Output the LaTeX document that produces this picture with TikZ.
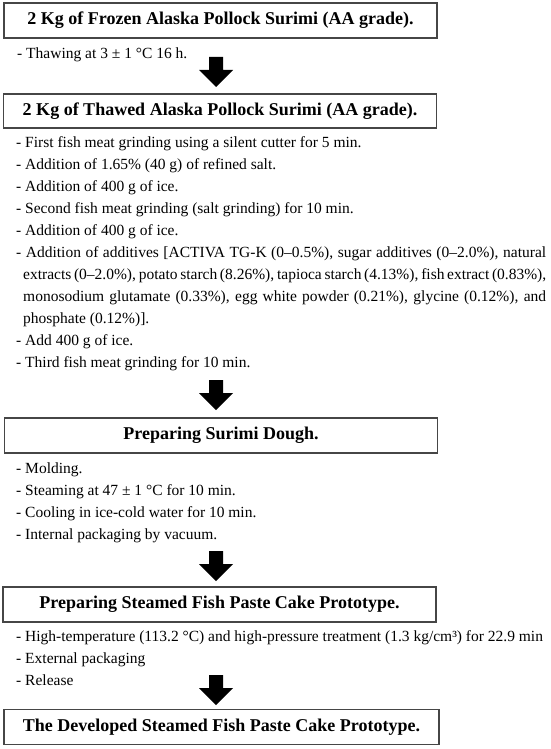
\documentclass[tikz,border=0pt]{standalone}
\usepackage{fontspec}
\setmainfont{Liberation Serif}
\definecolor{boxline}{RGB}{70,70,70}
\tikzset{
  titlebox/.style={draw=boxline, line width=1.1pt, minimum width=433pt, minimum height=35pt,
    inner sep=0pt, font=\fontsize{18}{20}\selectfont\bfseries},
  listtext/.style={anchor=north west, inner sep=0pt, text width=530pt, align=justify,
    font=\fontsize{15.5}{22}\selectfont},
  pics/downarrow/.style={code={
    \fill[black] (-7,0) -- (7,0) -- (7,13) -- (17,13) -- (0,30) -- (-17,13) -- (-7,13) -- cycle;}}
}
\begin{document}
\begin{tikzpicture}[x=1pt,y=-1pt]
\useasboundingbox (0,0) rectangle (550,749);
% title boxes
\node[titlebox] (b1) at (220.5,20.5) {2 Kg of Frozen Alaska Pollock Surimi (AA grade).};
\node[titlebox, minimum height=34pt] (b2) at (220,111) {2 Kg of Thawed Alaska Pollock Surimi (AA grade).};
\node[titlebox] (b3) at (221,435.5) {Preparing Surimi Dough.};
\node[titlebox] (b4) at (219.5,604.5) {Preparing Steamed Fish Paste Cake Prototype.};
\node[titlebox, minimum width=435pt] (b5) at (221.5,727) {The Developed Steamed Fish Paste Cake Prototype.};
% step lists
\node[listtext] (t1) at (17,42.6) {\strut- Thawing at 3 ± 1 °C 16 h.};
\node[listtext] (t2) at (16,132) {\strut- First fish meat grinding using a silent cutter for 5 min.\par
- Addition of 1.65\% (40 g) of refined salt.\par
- Addition of 400 g of ice.\par
- Second fish meat grinding (salt grinding) for 10 min.\par
- Addition of 400 g of ice.\par
\hangindent=7pt\hangafter=1 - Addition of additives [ACTIVA TG-K (0–0.5\%), sugar additives (0–2.0\%), natural\linebreak
extracts (0–2.0\%), potato starch (8.26\%), tapioca starch (4.13\%), fish extract (0.83\%),\linebreak
monosodium glutamate (0.33\%), egg white powder (0.21\%), glycine (0.12\%), and\linebreak
phosphate (0.12\%)].\par
- Add 400 g of ice.\par
- Third fish meat grinding for 10 min.};
\node[listtext] (t3) at (16,458) {\strut- Molding.\par
- Steaming at 47 ± 1 °C for 10 min.\par
- Cooling in ice-cold water for 10 min.\par
- Internal packaging by vacuum.};
\node[listtext] (t4) at (16,626) {\strut- High-temperature (113.2 °C) and high-pressure treatment (1.3 kg/cm³) for 22.9 min\par
- External packaging\par
- Release};
% block arrows
\pic (a1) at (216,57) {downarrow};
\pic (a2) at (216,380) {downarrow};
\pic (a3) at (216,551) {downarrow};
\pic (a4) at (216,675) {downarrow};
\end{tikzpicture}
\end{document}
